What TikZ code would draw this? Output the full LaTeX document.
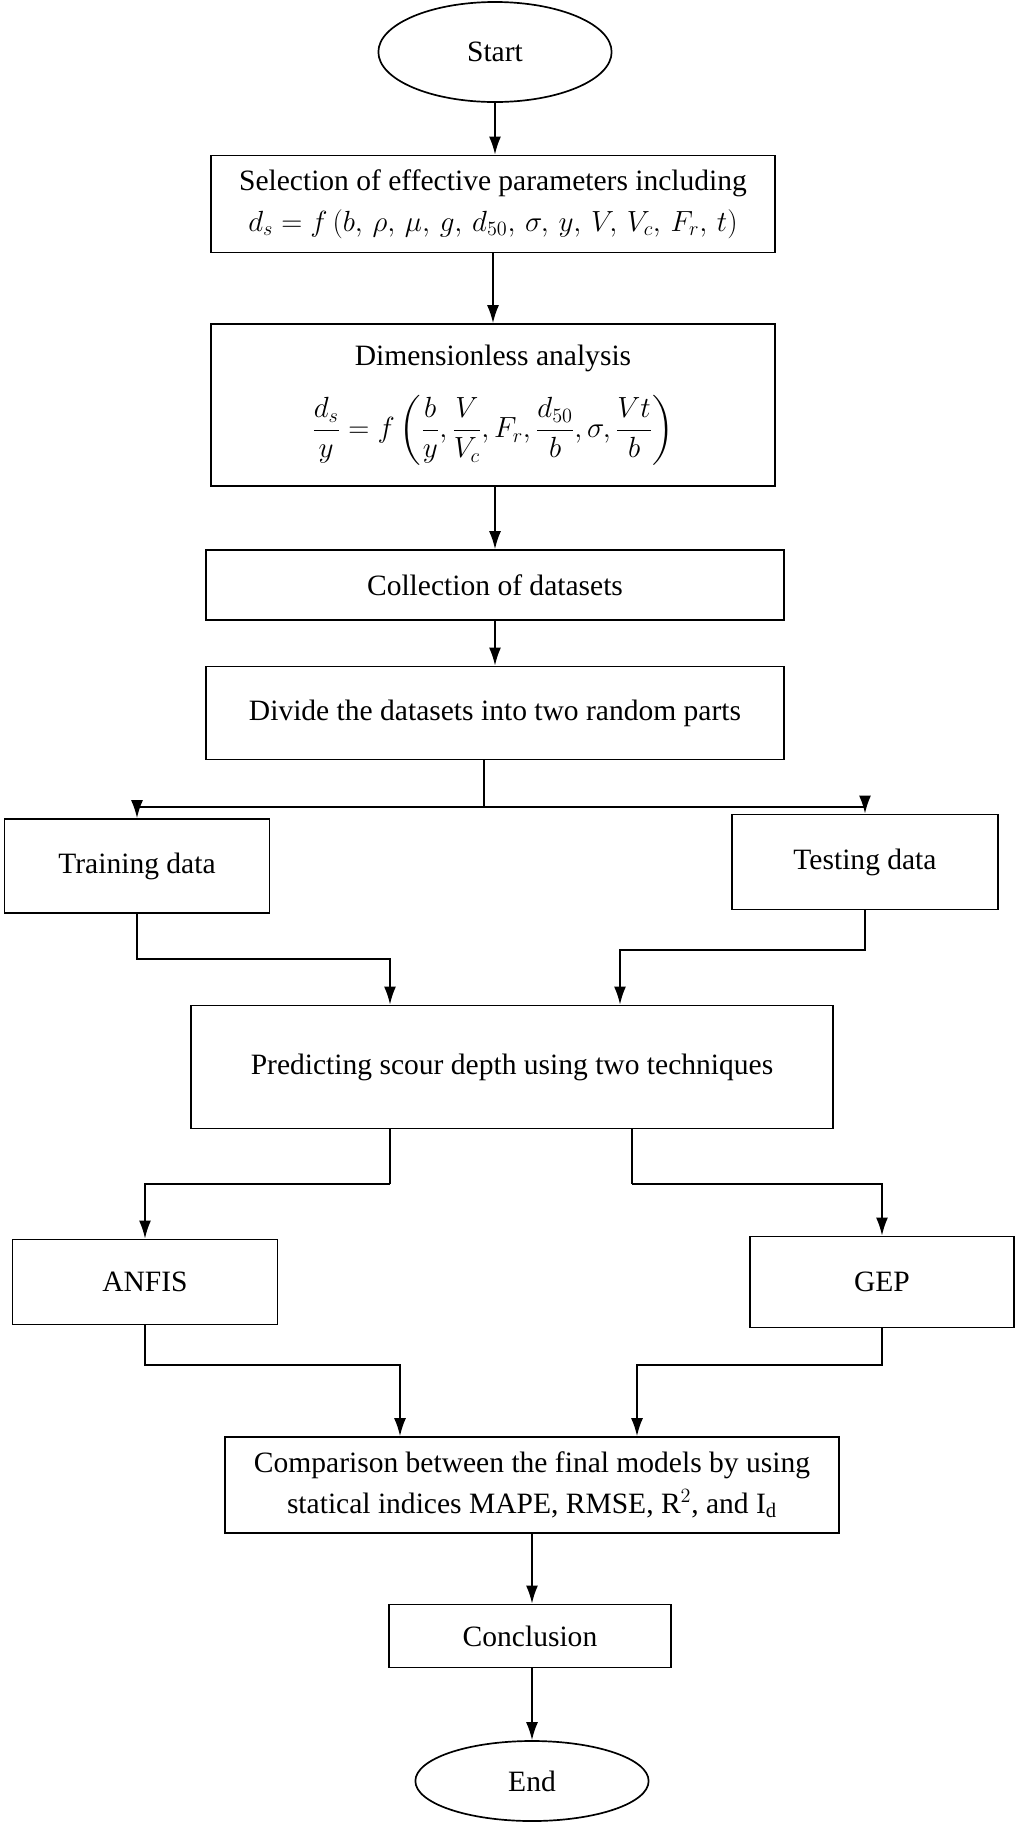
\documentclass[tikz,border=0pt]{standalone}
\usepackage{amsmath}
\usepackage{fontspec}
\setmainfont{Liberation Serif}
\usetikzlibrary{positioning, arrows.meta, shapes}

\begin{document}
\begin{tikzpicture}[
		% GLOBAL CFG
		x=0.025cm, y=-0.025cm,
		font=\fontsize{21}{29}\selectfont,
		>={Latex[length=4.5mm,width=3mm]},
		line width=1.2pt,
		% Styles
		proc/.style={% For the process boxes
			rectangle,
			draw,
			align=center,
			inner sep=2pt,
		},
		term/.style={% For start and end
			ellipse,
			draw,
			minimum width=5.83cm,
		},
		Arrow/.style={% Plain connectors
			->,
		},
		]
		% Start and end
		\node [term, minimum height=2.5cm] (start) at (495,52) {Start};
		\node [term, minimum height=2cm] (end) at (532,1781) {End};

		% Main boxes
		\node [proc, minimum width=14.08cm, minimum height=2.43cm] (select) at (493,204)
			{Selection of effective parameters including\\
			$d_s = f\,(b,\,\rho,\,\mu,\,g,\,d_{50},\,\sigma,\,y,\,V,\,V_c,\,F_r,\,t)$};
		\node [proc, minimum width=14.08cm, minimum height=4.05cm] (dimless) at (493,405)
			{Dimensionless analysis\\[16pt]
			$\displaystyle \frac{d_s}{y} = f\left(\frac{b}{y},\frac{V}{V_c},F_r,\frac{d_{50}}{b},\sigma,\frac{Vt}{b}\right)$};
		\node [proc, minimum width=14.45cm, minimum height=1.75cm] (collect) at (495,585) {Collection of datasets};
		\node [proc, minimum width=14.45cm, minimum height=2.33cm] (divide) at (495,713) {Divide the datasets into two random parts};
		\node [proc, minimum width=6.63cm, minimum height=2.35cm] (train) at (137,866) {Training data};
		\node [proc, minimum width=6.65cm, minimum height=2.38cm] (test) at (865,862) {Testing data};
		\node [proc, minimum width=16.05cm, minimum height=3.08cm] (predict) at (512,1067) {Predicting scour depth using two techniques};
		\node [proc, minimum width=6.63cm, minimum height=2.13cm] (anfis) at (145,1282) {ANFIS};
		\node [proc, minimum width=6.6cm, minimum height=2.28cm] (gep) at (882,1282) {GEP};
		\node [proc, minimum width=15.33cm, minimum height=2.4cm] (compare) at (532,1485)
			{Comparison between the final models by using\\
			statical indices MAPE, RMSE, R$^2$, and I$_\mathrm{d}$};
		\node [proc, minimum width=7.05cm, minimum height=1.58cm] (concl) at (530,1636) {Conclusion};

		% Helper points
		\coordinate (split) at (484,807);
		\coordinate (tr1) at (390,959);
		\coordinate (te1) at (620,950);
		\coordinate (pl) at (390,1184);
		\coordinate (pr) at (632,1184);
		\coordinate (an1) at (400,1365);
		\coordinate (ge1) at (637,1365);

		% Drawing arrows
		\draw [Arrow] (start) -- (start |- select.north);
		\draw [Arrow] (select) -- (dimless);
		\draw [Arrow] (dimless.south -| collect) -- (collect);
		\draw [Arrow] (collect) -- (divide);
		\draw (divide.south -| split) -- (split);
		\draw [Arrow] (split) -| (train);
		\draw [Arrow] (split) -| (test);
		\draw [Arrow] (train) |- (tr1) -- (tr1 |- predict.north);
		\draw [Arrow] (test) |- (te1) -- (te1 |- predict.north);
		\draw (predict.south -| pl) -- (pl);
		\draw (predict.south -| pr) -- (pr);
		\draw [Arrow] (pl) -| (anfis);
		\draw [Arrow] (pr) -| (gep);
		\draw [Arrow] (anfis) |- (an1) -- (an1 |- compare.north);
		\draw [Arrow] (gep) |- (ge1) -- (ge1 |- compare.north);
		\draw [Arrow] (compare.south -| end) -- (concl.north -| end);
		\draw [Arrow] (concl.south -| end) -- (end);

		\useasboundingbox (0,0) rectangle (1017,1824);
	\end{tikzpicture}
\end{document}
